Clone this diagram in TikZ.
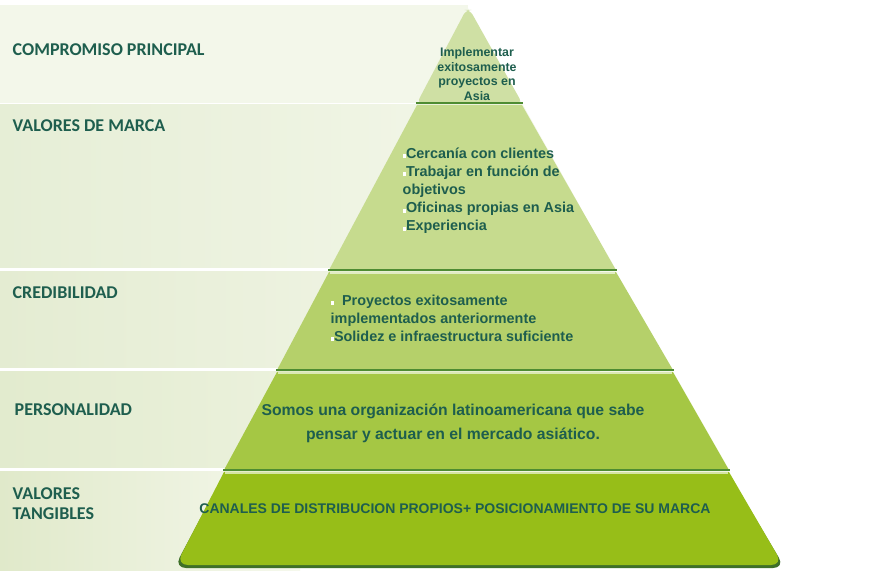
\documentclass[tikz,border=0pt]{standalone}
\usepackage{fontspec}
\setmainfont{Liberation Sans}
\newfontfamily\labfont{Carlito}
\begin{document}
\begin{tikzpicture}[x=0.75pt,y=-0.75pt,
  lab/.style={anchor=west,font=\labfont\bfseries\fontsize{13.5}{15}\selectfont,text=txt,align=left},
  ptxt/.style={font=\bfseries\fontsize{10.5}{13.5}\selectfont,text=txt},
  sep/.style={draw=sepg,line width=2pt}]
\definecolor{txt}{HTML}{1E5E4E}
\definecolor{sepg}{HTML}{4E8C32}
\definecolor{t1}{HTML}{CFE0A4}
\definecolor{t2}{HTML}{C6DB8E}
\definecolor{t3}{HTML}{B5D06A}
\definecolor{t4}{HTML}{A5C744}
\definecolor{t5}{HTML}{97BE18}
\newcommand{\bsq}{\textcolor{white}{\rule{2.5pt}{3pt}}}
\useasboundingbox (0,0) rectangle (869,581);
\fill[white] (0,0) rectangle (869,581);
% left bands
\fill[color={rgb,255:red,243;green,247;blue,234}] (0,5) rectangle (600,103);
\shade[left color={rgb,255:red,230;green,238;blue,214},right color={rgb,255:red,245;green,248;blue,236}] (0,105) rectangle (600,268);
\shade[left color={rgb,255:red,228;green,236;blue,210},right color={rgb,255:red,245;green,248;blue,236}] (0,272) rectangle (600,368);
\shade[left color={rgb,255:red,226;green,235;blue,206},right color={rgb,255:red,245;green,248;blue,236}] (0,372) rectangle (600,468);
\shade[left color={rgb,255:red,224;green,233;blue,202},right color={rgb,255:red,245;green,248;blue,236}] (0,472) rectangle (300,570);
% white to the right of the pyramid
\fill[white] (468,0) -- (468,8) -- (522,103) -- (616,270) -- (673,370) -- (729,470) -- (729,0) -- cycle;
\fill[white] (729,0) rectangle (869,581);
% pyramid shadow
\fill[sepg!80!black] (224,474) -- (729,474) [rounded corners=9pt] -- (785,568) -- (174,568) [sharp corners] -- cycle;
% tiers
\fill[t1,rounded corners=4pt] (417,103) -- (466,10) -- (470,10) -- (522,103) -- cycle;
\fill[t2] (417,105) -- (522,105) -- (616,270) -- (329,270) -- cycle;
\fill[t3] (329,272) -- (616,272) -- (673,370) -- (277,370) -- cycle;
\fill[t4] (277,372) -- (673,372) -- (729,470) -- (224,470) -- cycle;
\fill[t5] (224,472) -- (729,472) [rounded corners=9pt] -- (783,565) -- (176,565) [sharp corners] -- cycle;
% separators
\draw[sep] (416,103) -- (523,103);
\draw[sep] (328,270) -- (617,270);
\draw[sep] (276,370) -- (674,370);
\draw[sep] (223,470) -- (730,470);
\draw[white!60!t3,line width=0.8pt] (330,273) -- (615,273);
\draw[white!60!t4,line width=0.8pt] (278,373) -- (672,373);
\draw[white!60!t5,line width=0.8pt] (225,473) -- (728,473);
% left labels
\node[lab] (l1) at (8,50) {COMPROMISO PRINCIPAL};
\node[lab] (l2) at (8,126) {VALORES DE MARCA};
\node[lab] (l3) at (8,293) {CREDIBILIDAD};
\node[lab] (l4) at (10,410) {PERSONALIDAD};
\node[lab] (l5) at (8,504) {VALORES\\TANGIBLES};
% pyramid texts
\node[ptxt,font=\bfseries\fontsize{9.3}{11}\selectfont,align=center] (p1) at (477,74) {Implementar\\exitosamente\\proyectos en\\Asia};
\node[ptxt,anchor=north west,align=left,font=\bfseries\fontsize{10.8}{13.6}\selectfont] (p2) at (398,143) {\bsq Cercanía con clientes\\\bsq Trabajar en función de\\objetivos\\\bsq Oficinas propias en Asia\\\bsq Experiencia};
\node[ptxt,anchor=north west,align=left,font=\bfseries\fontsize{10.8}{13.6}\selectfont] (p3) at (326,290) {\bsq\ \ Proyectos exitosamente\\implementados anteriormente\\\bsq Solidez e infraestructura suficiente};
\node[ptxt,align=center,font=\bfseries\fontsize{11.8}{18}\selectfont] (p4) at (453,423) {Somos una organización latinoamericana que sabe\\pensar y actuar en el mercado asiático.};
\node[ptxt,font=\bfseries\fontsize{10.5}{12}\selectfont] (p5) at (455,509) {CANALES DE DISTRIBUCION PROPIOS+ POSICIONAMIENTO DE SU MARCA};
\end{tikzpicture}
\end{document}
